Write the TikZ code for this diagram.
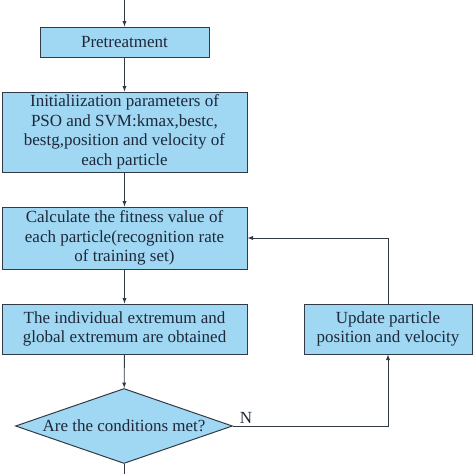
\documentclass[tikz,border=0pt]{standalone}
\usepackage{fontspec}
\setmainfont{Liberation Serif}
\usepackage{tikz}
\usepackage{xcolor}
\tikzset{>=latex}
\usetikzlibrary{shapes.geometric}
\definecolor{boxfill}{RGB}{160,215,242}
\definecolor{boxline}{RGB}{50,58,70}
\definecolor{boxtext}{RGB}{30,40,58}
\tikzset{
  stepbox/.style={draw=boxline, fill=boxfill, line width=1pt, text=boxtext,
    align=center, inner sep=0pt,
    font=\fontsize{17}{19.5}\selectfont},
  flow/.style={->, draw=boxline, line width=0.9pt},
}

\begin{document}
\begin{tikzpicture}[x=1pt, y=-1pt]
    \useasboundingbox (0, 0) rectangle (474, 474);
    % boxes of the main column
    \node[stepbox, minimum width=169pt, minimum height=30pt] (pre) at (124.5, 42) {Pretreatment};
    \node[stepbox, minimum width=245pt, minimum height=80pt] (init) at (124.5, 132)
      {Initialiization parameters of\\PSO and SVM:kmax,bestc,\\bestg,position and velocity of\\each particle};
    \node[stepbox, minimum width=245pt, minimum height=62pt] (calc) at (124.5, 238)
      {Calculate the fitness value of\\each particle(recognition rate\\of training set)};
    \node[stepbox, minimum width=245pt, minimum height=50pt] (indiv) at (124.5, 329)
      {The individual extremum and\\global extremum are obtained};
    \node[stepbox, minimum width=168pt, minimum height=50pt] (upd) at (388, 329)
      {Update particle\\position and velocity};
    \node[stepbox, diamond, aspect=2.9, minimum width=217pt, minimum height=75pt] (cond) at (124, 426)
      {Are the conditions met?};
    \coordinate (in) at (124.5, 0);
    \coordinate (out) at (124, 474);
    % connectors
    \draw[flow] (in) -- (pre);
    \draw[flow] (pre) -- (init);
    \draw[flow] (init) -- (calc);
    \draw[flow] (calc) -- (indiv);
    \draw[flow] (indiv) -- (cond);
    \draw[draw=boxline, line width=0.9pt] (cond) -- (out);
    \draw[flow] (cond.east) -| (upd.south);
    \draw[flow] (upd.north) |- (calc.east);
    \node[text=boxtext, font=\fontsize{17}{19.5}\selectfont] (no) at (246, 418) {N};
\end{tikzpicture}
\end{document}
